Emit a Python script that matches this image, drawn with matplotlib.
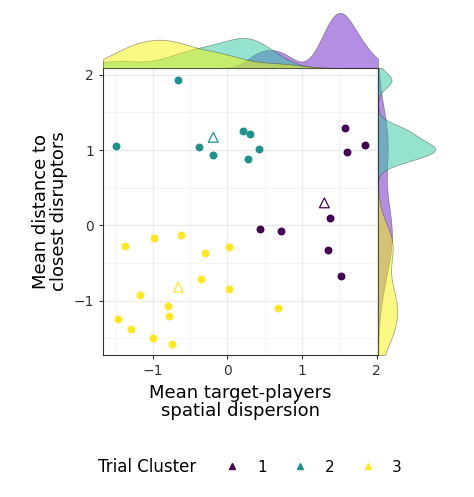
import numpy as np
import matplotlib
matplotlib.use("Agg")
import matplotlib.pyplot as plt
from matplotlib.lines import Line2D
from matplotlib.offsetbox import HPacker

c1x=[1.58,1.60,1.85,0.43,0.72,1.38,1.35,1.52]; c1y=[1.30,0.97,1.07,-0.05,-0.07,0.10,-0.32,-0.67]
c2x=[-0.67,-1.50,-0.38,-0.19,0.21,0.30,0.28,0.42]; c2y=[1.93,1.06,1.04,0.93,1.26,1.22,0.88,1.02]
c3x=[-1.38,-0.98,-0.63,-0.30,0.02,-0.35,0.02,-1.17,-0.80,0.68,-1.47,-1.30,-0.78,-0.75,-1.00]
c3y=[-0.27,-0.17,-0.13,-0.37,-0.29,-0.71,-0.84,-0.93,-1.07,-1.10,-1.24,-1.37,-1.20,-1.57,-1.50]
means=[(1.30,0.30),(-0.19,1.17),(-0.66,-0.82)]
cols=['#440154','#21908C','#FDE725']
fills=['#6a1fc8','#2dc9a0','#f5f50a']
data=[(c1x,c1y),(c2x,c2y),(c3x,c3y)]

fig=plt.figure(figsize=(4.74,4.97),dpi=100)
W,H=474,497
ax=fig.add_axes([103/W,1-355/H,275/W,287/H])
axt=fig.add_axes([103/W,1-68/H,275/W,58/H],sharex=ax)
axr=fig.add_axes([378/W,1-355/H,60/W,287/H],sharey=ax)

def kde(v,g):
    v=np.array(v)
    iqr=np.subtract(*np.percentile(v,[75,25]))
    bw=0.9*min(v.std(ddof=1),iqr/1.34)*len(v)**-0.2
    return np.exp(-0.5*((g[:,None]-v[None,:])/bw)**2).sum(1)/(len(v)*bw*np.sqrt(2*np.pi))

gx=np.linspace(-1.67,2.02,300); gy=np.linspace(-1.72,2.09,300)
for (x,y),f in zip(data,fills):
    axt.fill_between(gx,kde(x,gx),color=f,alpha=0.5,lw=0.5,ec='#333333')
    axr.fill_betweenx(gy,kde(y,gy),color=f,alpha=0.5,lw=0.5,ec='#333333')
for a in (axt,axr):
    a.axis('off')
axt.set_ylim(0,None); axr.set_xlim(0,None)

ax.set_facecolor('white')
for (x,y),c,m in zip(data,cols,means):
    ax.scatter(x,y,s=22,color=c,zorder=3)
    ax.scatter([m[0]],[m[1]],marker='^',s=50,facecolor='none',edgecolor=c,lw=0.9,zorder=3)
ax.set_xlim(-1.67,2.02); ax.set_ylim(-1.72,2.09)
ax.set_xticks([-1,0,1,2]); ax.set_yticks([-1,0,1,2])
ax.set_xticks([-1.5,-0.5,0.5,1.5],minor=True); ax.set_yticks([-1.5,-0.5,0.5,1.5],minor=True)
ax.grid(True,which='major',color='#EBEBEB',lw=1)
ax.grid(True,which='minor',color='#F3F3F3',lw=0.6)
ax.tick_params(which='minor',length=0)
ax.tick_params(which='major',labelsize=10,colors='#333333',length=3)
for s in ax.spines.values(): s.set_color('#333333')
ax.set_xlabel('Mean target-players\nspatial dispersion',fontsize=13,linespacing=1.0)
ax.set_ylabel('Mean distance to\nclosest disruptors',fontsize=13,linespacing=1.0)
handles=[Line2D([],[],marker='^',ls='none',color=c,markersize=4.5) for c in cols]
fig.legend(handles,['1','2','3'],title='Trial Cluster',loc='center',bbox_to_anchor=(250/W,1-467/H),
           ncol=3,frameon=False,fontsize=11,title_fontsize=12,handletextpad=0.6,columnspacing=1.2)
lb=fig.legends[0]._legend_box
lb.__class__=HPacker
lb.sep=15
fig.savefig('out.png',dpi=100)
